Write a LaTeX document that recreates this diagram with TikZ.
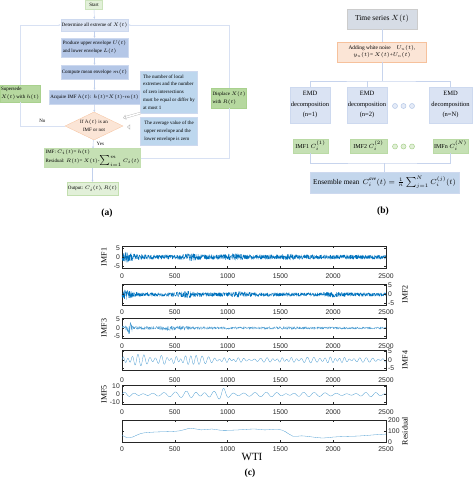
\RequirePackage{fix-cm}
\documentclass[tikz,border=0pt]{standalone}
\usepackage{fontspec}
\setmainfont{Liberation Serif}
\newfontfamily\plotfont{Liberation Sans}
\usetikzlibrary{arrows.meta,shapes.geometric}

\definecolor{paleblue}{HTML}{DAE3F3}
\definecolor{midblue}{HTML}{B4C7E7}
\definecolor{noteblue}{HTML}{BDD7EE}
\definecolor{ensblue}{HTML}{C3D6EC}
\definecolor{paleorange}{HTML}{FBE5D6}
\definecolor{lineorange}{HTML}{F4B183}
\definecolor{palegreen}{HTML}{E2F0D9}
\definecolor{midgreen}{HTML}{C5E0B4}
\definecolor{darkgreen}{HTML}{A9D18E}
\definecolor{greyblue}{HTML}{D6DCE5}
\definecolor{edgeblue}{HTML}{8FAADC}
\definecolor{matblue}{HTML}{0072BD}
\definecolor{axisgrey}{HTML}{262626}

\newcommand{\fa}{\fontsize{5}{7.8}\selectfont}
\newcommand{\fb}{\fontsize{6.5}{10.5}\selectfont}
\newcommand{\fnum}{\plotfont\fontsize{6.8}{7}\selectfont}

% one axes box of panel (c): name, top, bottom, row of the tick labels
\newcommand{\plotframe}[4]{%
  \draw[axisline] (122,#2) rectangle (386,#3);
  \foreach \k/\lab in {0/0,1/500,2/1000,3/1500,4/2000,5/2500}{
    \draw[axisline] (122+52.8*\k,#3) -- ++(0,-1.8);
    \draw[axisline] (122+52.8*\k,#2) -- ++(0,1.8);
    \node[xnum] (#1-x\k) at (122+52.8*\k,#4) {\lab};
  }}

\begin{document}
\begin{tikzpicture}[x=1pt, y=-1pt,
  block/.style={rectangle, draw=edgeblue!45, line width=0.3pt, fill=midblue,
    inner sep=1pt, font=\fa, align=center},
  lightblock/.style={block, fill=paleblue},
  greenblock/.style={block, draw=darkgreen!70, fill=midgreen},
  sideblock/.style={block, draw=darkgreen, fill=darkgreen!85, align=left},
  decide/.style={diamond, aspect=2, draw=lineorange!80, line width=0.3pt,
    fill=paleorange, inner sep=0.5pt, font=\fa, align=center},
  note/.style={block, fill=noteblue, align=left, minimum width=57},
  link/.style={draw=edgeblue!55, line width=0.45pt, -{Stealth[length=2pt, width=2pt]}},
  loop/.style={link, draw=edgeblue!35},
  hollow/.style={draw=gray!55, line width=0.4pt, double=white, double distance=1.5pt,
    -{Triangle[open, length=3pt, width=5pt]}},
  ebox/.style={rectangle, draw=edgeblue!45, line width=0.3pt, fill=paleblue,
    inner sep=1pt, font=\fb, align=center, minimum height=36},
  ibox/.style={rectangle, draw=darkgreen!80, line width=0.3pt, fill=midgreen,
    inner sep=1pt, font=\fontsize{6}{7}\selectfont, minimum height=14},
  bline/.style={draw=edgeblue!50, line width=0.45pt},
  dotc/.style={circle, draw=#1, fill=#1!35, line width=0.5pt, minimum size=5, inner sep=0pt},
  tag/.style={font=\bfseries\fontsize{9.5}{10}\selectfont},
  axisline/.style={draw=axisgrey, line width=0.35pt},
  xnum/.style={font=\fnum, text=axisgrey, inner sep=0pt},
  ynum/.style={font=\fnum, text=axisgrey, inner sep=0pt},
  ylab/.style={font=\fontsize{8}{8}\selectfont, rotate=90, inner sep=0pt},
  sig/.style={draw=matblue, line width=0.3pt, line join=round},
  lightsig/.style={sig, draw=matblue!70}
]
\useasboundingbox (0,0) rectangle (474,481);

%% (a) EMD flow chart
\node[block, fill=palegreen, draw=darkgreen!60, minimum width=17, minimum height=9] (start) at (94,4.5) {Start};
\node[lightblock, minimum width=67, minimum height=12] (extreme) at (94.5,25) {Determine all extreme of $X(t)$};
\node[block, minimum width=67, minimum height=19, align=left] (envel) at (94.5,47.5) {Produce upper envelope $U(t)$\\and lower envelope $L(t)$};
\node[block, minimum width=67, minimum height=14] (mean) at (94.5,72) {Compute mean envelope $m(t)$};
\node[block, minimum width=68, minimum height=14] (acquire) at (94.5,97) {Acquire IMF $h(t)$: $h(t)$=$X(t)$-$m(t)$};
\node[decide, minimum width=58, minimum height=28] (isimf) at (94,126) {If $h(t)$ is an\\IMF or not};
\node[greenblock, minimum width=71, minimum height=18, align=left] (imf) at (92.5,158) {IMF: $C_i(t)$= $h(t)$\\Residual: $R(t)$= $X(t)$-$\sum_{i=1}^{m}C_i(t)$};
\node[greenblock, fill=palegreen, minimum width=39, minimum height=13] (output) at (92.5,188.5) {Output: $C_i(t)$, $R(t)$};

\node[sideblock, minimum width=34, minimum height=17] (supersede) at (20,93.5) {Supersede\\$X(t)$ with $h(t)$};
\node[sideblock, minimum width=30, minimum height=20] (displace) at (229,98) {Displace $X(t)$\\with $R(t)$};

\node[note, minimum height=42] (cond1) at (169,92) {The number of local\\extremes and the number\\of zero intersections\\must be equal or differ by\\at most 1};
\node[note, minimum height=28] (cond2) at (169,131) {The average value of the\\upper envelope and the\\lower envelope is zero};

\draw[link] (start) -- (extreme);
\draw[link] (extreme) -- (envel);
\draw[link] (envel) -- (mean);
\draw[link] (mean) -- (acquire);
\draw[link] (acquire) -- (isimf);
\draw[link] (isimf) -- node[right, font=\fa, pos=0.45] {Yes} (imf);
\draw[link] (imf) -- (output);

\draw[loop, -] (isimf.west) -| node[above, font=\fa, pos=0.25] {No} (supersede.south);
\draw[loop] (supersede.north) |- (extreme.west);
\draw[loop, -] (imf.east) -| (displace.south);
\draw[loop] (displace.north) |- (extreme.east);

\coordinate (tip1) at (123,118);
\coordinate (tip2) at (127,127);
\draw[hollow] (cond1.south west) -- (tip1);
\draw[hollow] (cond2.west |- tip2) -- (tip2);

\node[tag] (taga) at (107,213) {(a)};

%% (b) EEMD scheme
\node[rectangle, draw=gray!40, line width=0.3pt, fill=greyblue, minimum width=70, minimum height=20,
  font=\fontsize{7.5}{8}\selectfont] (series) at (382,19) {Time series $X(t)$};
\node[rectangle, draw=lineorange!80, line width=0.3pt, fill=paleorange, minimum width=89, minimum height=20,
  align=center, font=\fontsize{5.4}{7}\selectfont] (noise) at (382,52) {Adding white noise\quad $U_n(t)$,\\$y_n(t)$= $X(t)$+$U_n(t)$};

\node[ebox, minimum width=40] (emd1) at (310,105) {EMD\\decomposition\\(n=1)};
\node[ebox, minimum width=40] (emd2) at (367,105) {EMD\\decomposition\\(n=2)};
\node[ebox, minimum width=43] (emdN) at (450.5,105) {EMD\\decomposition\\(n=N)};
\node[dotc=midblue] (e1) at (395,106) {};
\node[dotc=midblue] (e2) at (403.5,106) {};
\node[dotc=midblue] (e3) at (412,106) {};

\node[ibox, minimum width=35] (imf1) at (310.5,146) {IMF1 $C_i^{(1)}$};
\node[ibox, minimum width=37] (imf2) at (368.5,146) {IMF2 $C_i^{(2)}$};
\node[ibox, minimum width=35] (imfN) at (450.5,146) {IMFn $C_i^{(N)}$};
\node[dotc=darkgreen] (g1) at (395,146.5) {};
\node[dotc=darkgreen] (g2) at (403.5,146.5) {};
\node[dotc=darkgreen] (g3) at (412,146.5) {};

\node[rectangle, draw=edgeblue!45, line width=0.3pt, fill=ensblue, minimum width=127, minimum height=21,
  font=\fontsize{7.3}{8}\selectfont] (ensemble) at (384.5,182.5) {Ensemble mean\, $C_i^{\mathit{ave}}(t)=\frac{1}{n}\sum\nolimits_{j=1}^{N}C_i^{(j)}(t)$};

\coordinate (split) at (382,81);
\coordinate (join) at (384.5,163);
\draw[bline] (series) -- (noise);
\draw[bline] (noise) -- (split);
\draw[bline] (emd1.north) |- (split) -| (emdN.north);
\draw[bline] (emd2.north) -- (emd2.north |- split);
\draw[bline] (imf1.south) |- (join) -| (imfN.south);
\draw[bline] (join) -- (ensemble.north);

\node[tag] (tagb) at (383,211) {(b)};

%% (c) decomposition of WTI
% IMF1
\plotframe{p1}{246}{268}{276}
\begin{scope}[shift={(122,257)}, x=0.1056pt, y=1.8pt]
  \pgfmathsetseed{101}
  \draw[sig] plot[domain=0:2500, samples=1400]
    (\x, {(1.2+1.9/(1+((\x-50)/50)^2)+0.9/(1+((\x-650)/60)^2)+0.7/(1+((\x-1050)/80)^2)+0.5/(1+((\x-1600)/80)^2))*rand});
\end{scope}
\foreach \v/\p in {5/248,0/257,-5/266}{
  \draw[axisline] (122,\p) -- ++(1.8,0);
  \draw[axisline] (386,\p) -- ++(-1.8,0);
  \node[ynum, anchor=east] (p1-y\v) at (120,\p) {\v};}
\node[ylab] (lab1) at (104,257) {IMF1};

% IMF2
\plotframe{p2}{284}{305}{312.5}
\begin{scope}[shift={(122,294.5)}, x=0.1056pt, y=1.8pt]
  \pgfmathsetseed{202}
  \draw[sig] plot[domain=0:2500, samples=1300]
    (\x, {(1.0+1.9/(1+((\x-40)/40)^2)+1.0/(1+((\x-620)/70)^2)+0.7/(1+((\x-1120)/70)^2)+0.5/(1+((\x-2000)/90)^2))*rand});
\end{scope}
\foreach \v/\p in {5/285.5,0/294.5,-5/303.5}{
  \draw[axisline] (122,\p) -- ++(1.8,0);
  \draw[axisline] (386,\p) -- ++(-1.8,0);
  \node[ynum, anchor=west] (p2-y\v) at (388,\p) {\v};}
\node[ylab] (lab2) at (405,294.5) {IMF2};

% IMF3
\plotframe{p3}{318}{338}{346}
\begin{scope}[shift={(122,328)}, x=0.1056pt, y=1.7pt]
  \pgfmathsetseed{303}
  \draw[lightsig] plot[domain=0:2500, samples=900]
    (\x, {(0.6+3.4/(1+((\x-70)/22)^2)+1.0/(1+((\x-480)/150)^2)+0.3/(1+((\x-1500)/300)^2))*rand});
\end{scope}
\foreach \v/\p in {5/319.5,0/328,-5/336.5}{
  \draw[axisline] (122,\p) -- ++(1.8,0);
  \draw[axisline] (386,\p) -- ++(-1.8,0);
  \node[ynum, anchor=east] (p3-y\v) at (120,\p) {\v};}
\node[ylab] (lab3) at (104,328) {IMF3};

% IMF4
\plotframe{p4}{350}{370}{380}
\begin{scope}[shift={(122,360)}, x=0.1056pt, y=1.7pt]
  \draw[lightsig] plot[domain=0:2500, samples=800]
    (\x, {(0.7+2.2/(1+((\x-200)/120)^2)+2.4/(1+((\x-690)/70)^2)+0.7/(1+((\x-1900)/200)^2))*sin(7.2*mod(\x,50)+90*sin(0.7*\x))
      +(0.5+0.8/(1+((\x-350)/150)^2))*sin(5*mod(\x,72)+60*sin(0.33*\x))});
\end{scope}
\foreach \v/\p in {5/351.5,0/360,-5/368.5}{
  \draw[axisline] (122,\p) -- ++(1.8,0);
  \draw[axisline] (386,\p) -- ++(-1.8,0);
  \node[ynum, anchor=west] (p4-y\v) at (388,\p) {\v};}
\node[ylab] (lab4) at (405,360) {IMF4};

% IMF5
\plotframe{p5}{385}{404}{412}
\begin{scope}[shift={(122,394.5)}, x=0.1056pt, y=0.8pt]
  \draw[lightsig] plot[domain=0:2500, samples=500]
    (\x, {(1.8+6/(1+((\x-960)/40)^2)+1.8/(1+((\x-650)/90)^2))*sin(360/95*mod(\x,95)+50*sin(0.45*\x))
      +1.0*sin(3*mod(\x,120)+40*sin(0.2*\x))});
\end{scope}
\foreach \v/\p in {10/386.5,0/394.5,-10/402.5}{
  \draw[axisline] (122,\p) -- ++(1.8,0);
  \draw[axisline] (386,\p) -- ++(-1.8,0);
  \node[ynum, anchor=east] (p5-y\v) at (120,\p) {\v};}
\node[ylab] (lab5) at (104,394.5) {IMF5};

% Residual
\plotframe{p6}{420}{442}{449.5}
\begin{scope}[shift={(122,442)}, x=0.1056pt, y=0.11pt]
  \draw[lightsig] plot[smooth, tension=0.6] coordinates {(0,64) (40,42) (100,45) (180,78) (300,90) (450,95)
    (550,102) (650,125) (750,110) (850,118) (950,106) (1100,110) (1250,118) (1350,110) (1480,116)
    (1550,92) (1620,52) (1700,56) (1800,46) (1900,36) (2000,45) (2100,50) (2250,55) (2400,66) (2500,72)};
\end{scope}
\foreach \v/\p in {200/420,100/431,0/442}{
  \draw[axisline] (122,\p) -- ++(1.8,0);
  \draw[axisline] (386,\p) -- ++(-1.8,0);
  \node[ynum, anchor=west] (p6-y\v) at (388,\p) {\v};}
\node[ylab] (lab6) at (405,431) {Residual};

\node[font=\fontsize{11}{11}\selectfont] (wti) at (252,457) {WTI};
\node[tag] (tagc) at (250,473) {(c)};

\end{tikzpicture}
\end{document}
